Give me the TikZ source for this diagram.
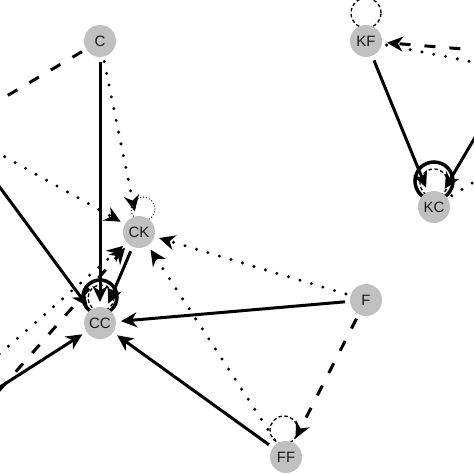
\documentclass[tikz,border=0pt]{standalone}
\usepackage{fontspec}
\setmainfont{Liberation Sans}
\usetikzlibrary{arrows.meta,backgrounds}
\definecolor{vgrey}{RGB}{192,192,192}
\definecolor{vtext}{RGB}{25,25,25}
\tikzset{
  vtx/.style={circle,fill=vgrey,minimum size=32pt,inner sep=0pt,outer sep=5pt,
    text=vtext,font=\fontsize{15}{15}\selectfont},
  tie/.style={line width=3pt,-{Stealth[length=16pt,width=15pt,inset=5pt]}},
  solidtie/.style={tie},
  dashtie/.style={tie,dash pattern=on 11pt off 14pt},
  dottie/.style={tie,line width=3.3pt,dash pattern=on 0pt off 12pt,line cap=round},
  loopthick/.style={line width=3.5pt},
  loopdash/.style={line width=1.3pt,dash pattern=on 3.5pt off 2.5pt},
  loopdot/.style={line width=1.3pt,dash pattern=on 0pt off 3pt,line cap=round}
}
\begin{document}
\begin{tikzpicture}[x=1pt,y=-1pt]
    \useasboundingbox (0,0) rectangle (474,474);
    \clip (0,0) rectangle (474,474);
    \node[vtx] (C) at (100,41) {C};
    \node[vtx] (CK) at (139,232) {CK};
    \node[vtx] (CC) at (100,323) {CC};
    \node[vtx] (F) at (366,300) {F};
    \node[vtx] (FF) at (286,457) {FF};
    \node[vtx] (KF) at (366,41) {KF};
    \node[vtx] (KC) at (434,207) {KC};
    % ends outside the frame
    \coordinate (w1) at (-100,159);
    \coordinate (w2) at (-100,98);
    \coordinate (w3) at (-100,52);
    \coordinate (w4) at (-100,441);
    \coordinate (w5) at (-100,503);
    \coordinate (w6) at (-100,451);
    \coordinate (e1) at (520,61);
    \coordinate (e2) at (520,153);
    \coordinate (e3) at (560,57);
    \coordinate (e4) at (560,79);
    \begin{scope}[on background layer]
    \draw[solidtie] (C) -- (CC);
    \draw[dottie] (C) -- (CK);
    \draw[dashtie] (C) -- (w1);
    \draw[dottie] (w2) -- (CK);
    \draw[solidtie] (w3) -- (CC);
    \draw[dottie] (w4) -- (CK);
    \draw[dashtie] (w5) -- (CK);
    \draw[solidtie] (w6) -- (CC);
    \draw[solidtie] (CK) -- (CC);
    \draw[solidtie] (F) -- (CC);
    \draw[dottie] (F) -- (CK);
    \draw[solidtie] (FF) -- (CC);
    \draw[dottie] (FF) -- (CK);
    \draw[dashtie] (F) -- (FF);
    \draw[solidtie] (KF) -- (KC);
    \draw[solidtie] (e1) -- (KC);
    \draw[dottie] (KC) -- (e2);
    \draw[dashtie] (e3) -- (KF);
    \draw[dottie] (KF) -- (e4);
    % self loops
    \draw[loopthick] ([yshift=26pt]CC.center) circle (17pt);
    \draw[loopdash] ([xshift=1pt,yshift=25pt]CC.center) circle (13pt);
    \draw[loopthick] ([yshift=26pt]KC.center) circle (19pt);
    \draw[loopdash] ([yshift=24pt]KC.center) circle (14pt);
    \draw[loopdot] ([xshift=4pt,yshift=23pt]CK.center) circle (12pt);
    \draw[loopdash] ([xshift=-2pt,yshift=27pt]FF.center) circle (14pt);
    \draw[loopdash] ([yshift=28pt]KF.center) circle (15pt);
    \end{scope}
  \end{tikzpicture}
\end{document}
